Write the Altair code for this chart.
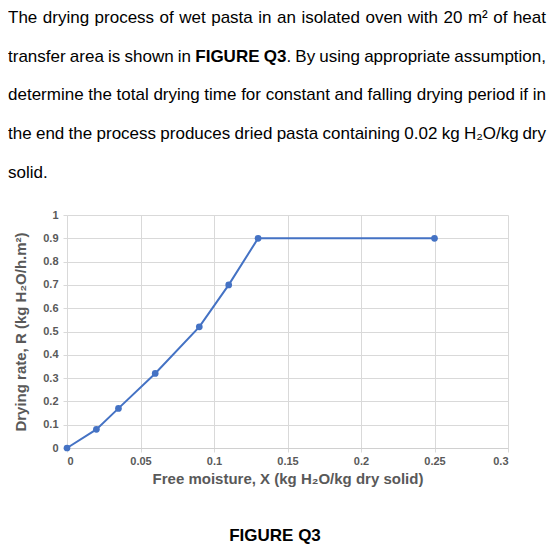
import altair as alt
import pandas as pd

# data
free_moisture = [0.0, 0.02, 0.035, 0.06, 0.09, 0.11, 0.13, 0.25]
drying_rate = [0.0, 0.08, 0.17, 0.32, 0.52, 0.70, 0.90, 0.90]
x_ticks = [0, 0.05, 0.1, 0.15, 0.2, 0.25, 0.3]
y_ticks = [0, 0.1, 0.2, 0.3, 0.4, 0.5, 0.6, 0.7, 0.8, 0.9, 1.0]

# paragraph above the chart (** marks bold)
para_lines = [
    "The drying process of wet pasta in an isolated oven with 20 m² of heat",
    "transfer area is shown in **FIGURE** **Q3**. By using appropriate assumption,",
    "determine the total drying time for constant and falling drying period if in",
    "the end the process produces dried pasta containing 0.02 kg H₂O/kg dry",
    "solid.",
]
caption = "FIGURE Q3"

df = pd.DataFrame({"X": free_moisture, "R": drying_rate})

FONT = "Liberation Sans"
BLUE = "#4472C4"
GRAY = "#595959"
FS = 17

# Arial / Liberation Sans advance widths (1/1000 em)
REG = {" ": 278, ",": 278, ".": 278, "/": 278, "(": 333, ")": 333, "²": 333, "₂": 350,
       "A": 667, "B": 667, "C": 722, "D": 722, "E": 667, "F": 611, "G": 778, "H": 722,
       "I": 278, "O": 778, "Q": 778, "R": 722, "T": 611, "U": 722, "X": 667,
       "a": 556, "b": 556, "c": 500, "d": 556, "e": 556, "f": 278, "g": 556, "h": 556,
       "i": 222, "j": 222, "k": 500, "l": 222, "m": 833, "n": 556, "o": 556, "p": 556,
       "q": 556, "r": 333, "s": 500, "t": 278, "u": 556, "v": 500, "w": 722, "x": 500,
       "y": 500, "z": 500}
for d in "0123456789":
    REG[d] = 556
BOLD = dict(REG)
BOLD.update({"F": 611, "I": 278, "G": 778, "U": 722, "R": 722, "E": 667, "Q": 778})


def seg_width(s, bold):
    tab = BOLD if bold else REG
    return sum(tab.get(ch, 556) for ch in s) / 1000 * FS


def parse_word(w):
    segs = []
    parts = w.split("**")
    for i, p in enumerate(parts):
        if p:
            segs.append((p, i % 2 == 1))
    return segs


L = -59
R = 479
baselines = [-192, -153.5, -115, -76, -37.5]


def txt(s, x, y, bold=False, align="left", size=FS, color="#000000"):
    return alt.Chart(alt.Data(values=[{"t": s}])).mark_text(
        font=FONT, fontSize=size, fontWeight="bold" if bold else "normal",
        align=align, baseline="alphabetic", color=color
    ).encode(x=alt.value(x), y=alt.value(y), text=alt.Text("t:N"))


texts = []
for li, line_s in enumerate(para_lines):
    words = [parse_word(w) for w in line_s.split(" ")]
    widths = [sum(seg_width(s, b) for s, b in w) for w in words]
    justify = li < len(para_lines) - 1 and len(words) > 1
    space = seg_width(" ", False)
    if justify:
        gap = (R - L - sum(widths)) / (len(words) - 1)
    else:
        gap = space
    x = L
    for wi, (w, wd) in enumerate(zip(words, widths)):
        if justify and wi == len(words) - 1:
            xr = R
            for s, b in reversed(w):
                texts.append(txt(s, xr, baselines[li], bold=b, align="right"))
                xr -= seg_width(s, b)
        else:
            xs = x
            for s, b in w:
                texts.append(txt(s, xs, baselines[li], bold=b))
                xs += seg_width(s, b)
        x += wd + gap

texts.append(txt(caption, 208, 326, bold=True, align="center", size=17))

x_enc = alt.X("X:Q", scale=alt.Scale(domain=[0, 0.3], nice=False),
              axis=alt.Axis(values=x_ticks, title="Free moisture, X (kg H₂O/kg dry solid)",
                            format="~g", labelOverlap=False))
y_enc = alt.Y("R:Q", scale=alt.Scale(domain=[0, 1], nice=False),
              axis=alt.Axis(values=y_ticks, title="Drying rate, R (kg H₂O/h.m²)",
                            format="~g", labelOverlap=False))

line = alt.Chart(df).mark_line(color=BLUE, strokeWidth=2).encode(x=x_enc, y=y_enc)
pts = alt.Chart(df).mark_point(color=BLUE, filled=True, opacity=1, size=45).encode(x=x_enc, y=y_enc)

chart = alt.layer(line, pts, *texts).properties(
    width=441, height=233,
    autosize=alt.AutoSizeParams(type="none"),
    padding={"left": 59, "top": 207, "right": 41, "bottom": 101},
).configure_view(stroke=None).configure_axis(
    labelFont=FONT, labelFontSize=11, labelFontWeight="bold", labelColor=GRAY,
    titleFont=FONT, titleFontSize=15, titleFontWeight="bold", titleColor=GRAY,
    gridColor="#d9d9d9", domainColor="#d0d0d0", tickColor="#d9d9d9", tickSize=4,
).configure_axisX(
    domain=True, labelPadding=3, titlePadding=5,
).configure_axisY(
    domain=False, labelPadding=5, titlePadding=14,
)

chart.save("out.html", embed_options={"renderer": "svg", "actions": False})
